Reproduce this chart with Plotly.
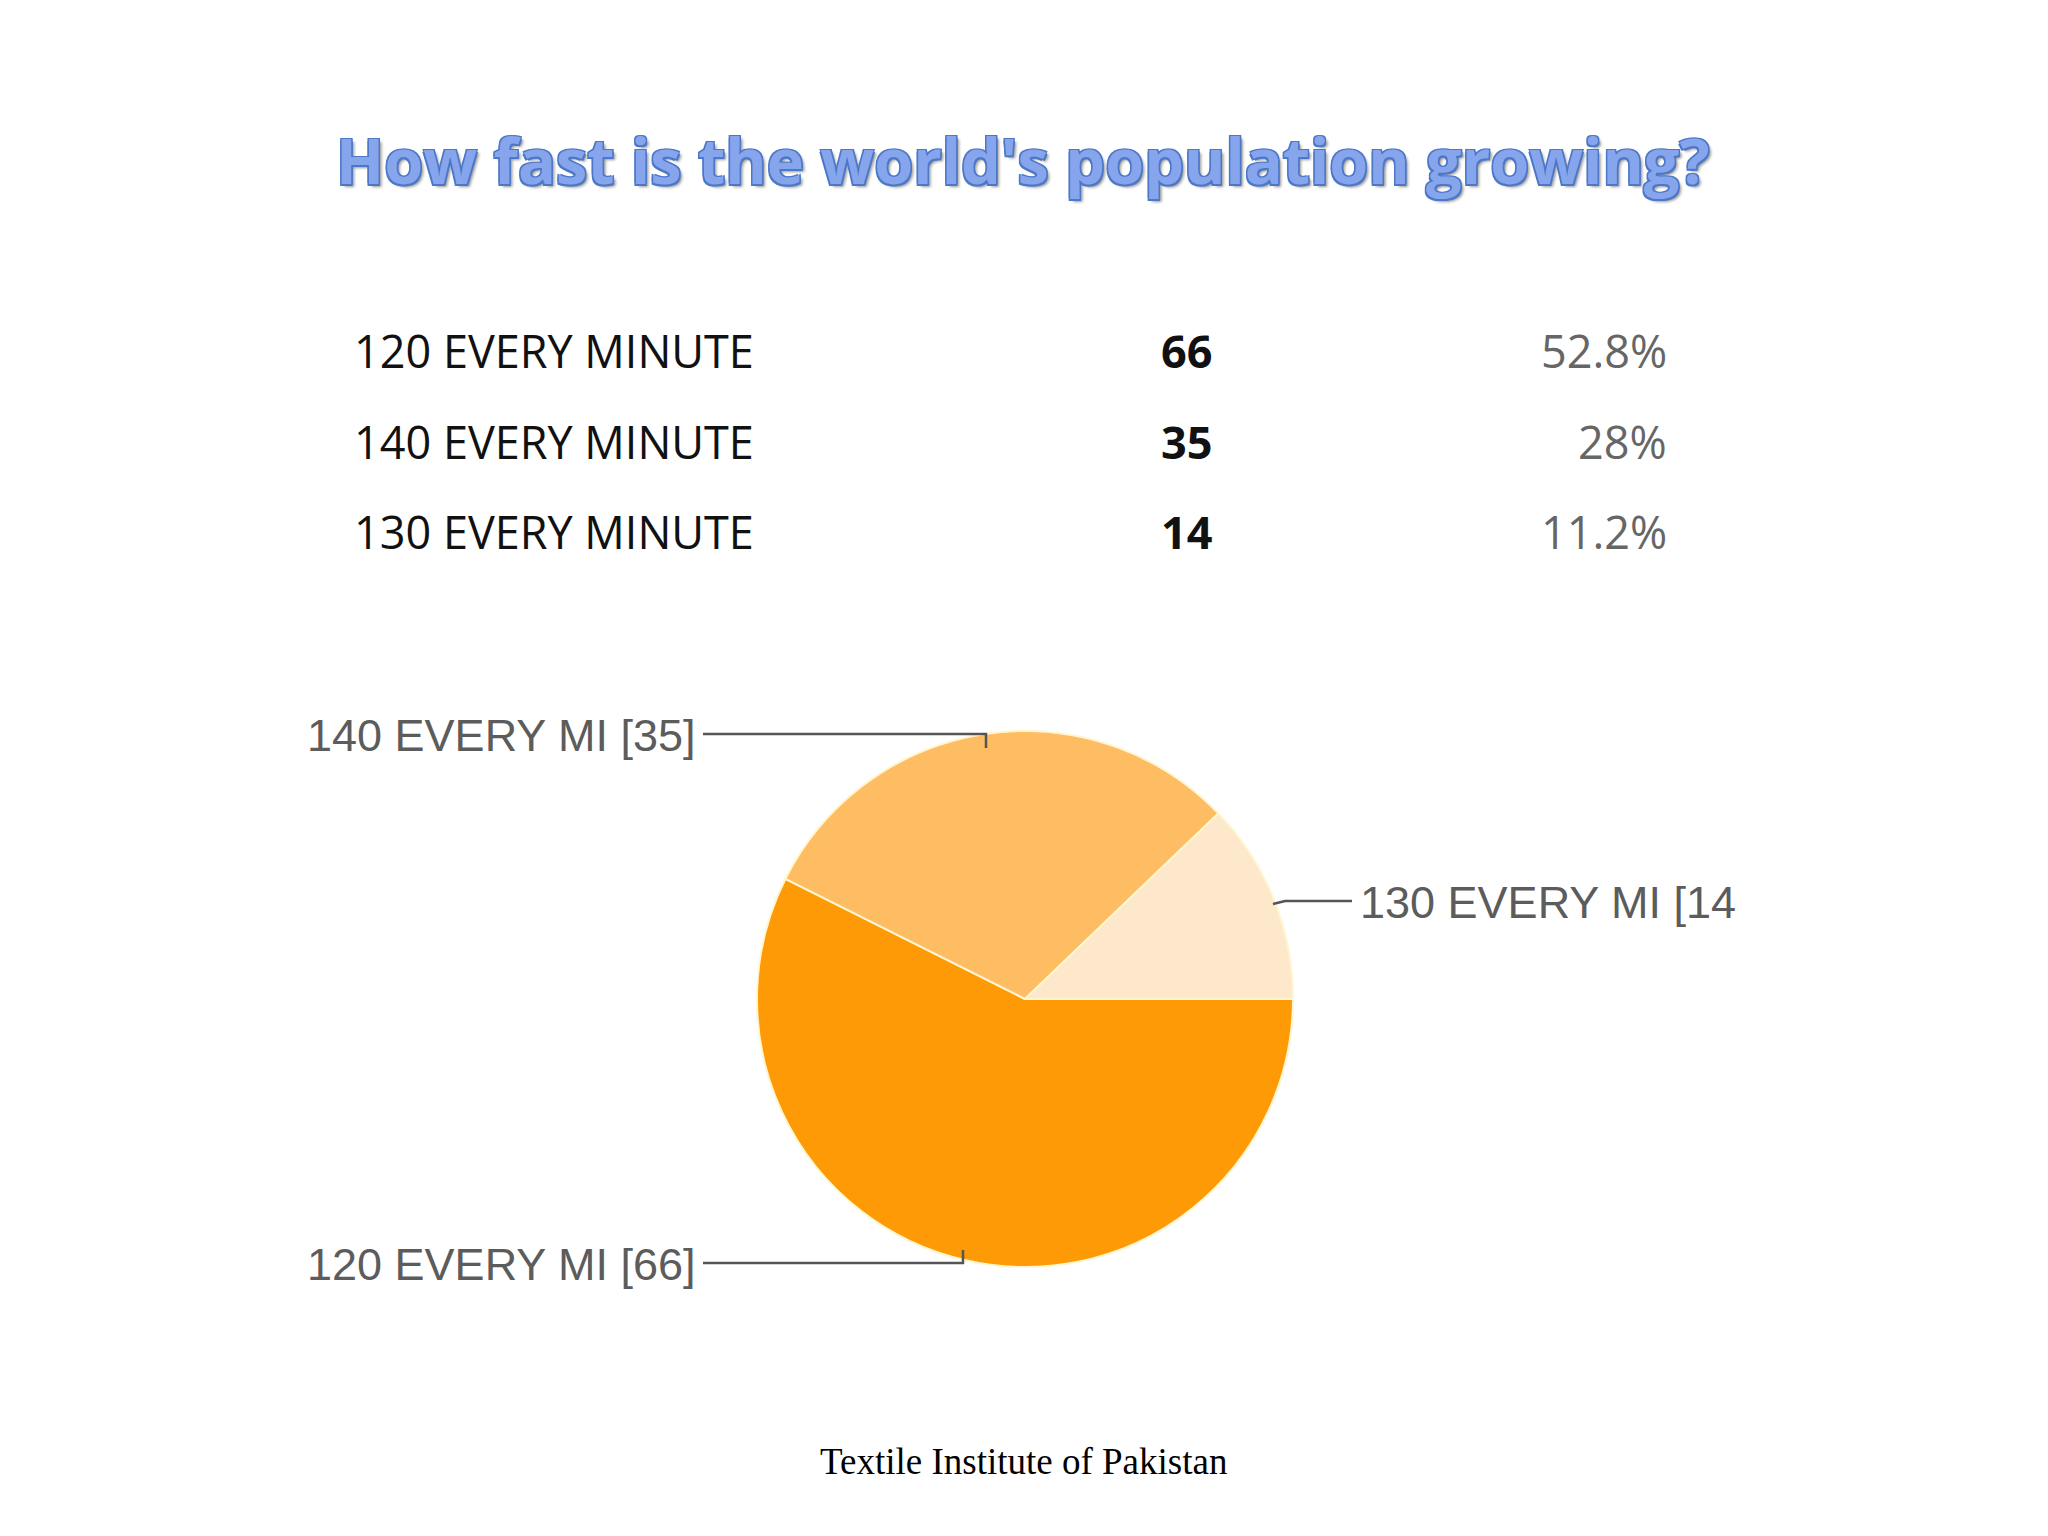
import plotly.graph_objects as go

W, H = 2040, 1528   # figure size (page body adds an 8px margin)
OX, OY = 8, 8

# ---- data ----
categories = ["120 EVERY MINUTE", "140 EVERY MINUTE", "130 EVERY MINUTE"]
counts = [66, 35, 14]
percents = ["52.8%", "28%", "11.2%"]
pie_labels = ["120 EVERY MI [66]", "140 EVERY MI [35]", "130 EVERY MI [14"]
slice_colors = ["#FE9A06", "#FEBD62", "#FDE8CB"]

title_text = "How fast is the world's population growing?"
footer_text = "Textile Institute of Pakistan"


def px(x):
    return (x - OX) / W


def py(y):
    return 1 - (y - OY) / H


fig = go.Figure()

# pie geometry (screen pixels)
cx, cy, r = 1025, 999, 268
fig.add_trace(go.Pie(
    labels=categories,
    values=counts,
    sort=False,
    direction="clockwise",
    rotation=90,
    marker=dict(colors=slice_colors, line=dict(color="#FFF6D0", width=2)),
    textinfo="none",
    hoverinfo="label+value+percent",
    showlegend=False,
    domain=dict(x=[px(cx - r), px(cx + r)], y=[py(cy + r), py(cy - r)]),
))

annotations = []
shapes = []

# Title
annotations.append(dict(
    text="<b>" + title_text + "</b>", x=px(1022), y=py(160), xref="paper", yref="paper",
    xanchor="center", yanchor="middle", showarrow=False,
    font=dict(family="Open Sans", size=63, color="#86A5EC",
              shadow="-1.5px -1.5px 0 #4C78C8, 1.5px -1.5px 0 #4C78C8, -1.5px 1.5px 0 #4C78C8, 1.5px 1.5px 0 #4C78C8, 3px 3px 3px #9a9a9a"),
))

# Table rows
row_y = [350, 441, 532]
for cat, cnt, pct, yy in zip(categories, counts, percents, row_y):
    annotations.append(dict(text=cat, x=px(352), y=py(yy), xref="paper", yref="paper",
                            xanchor="left", yanchor="middle", showarrow=False,
                            font=dict(family="Open Sans", size=45, color="#111111")))
    annotations.append(dict(text="<b>%d</b>" % cnt, x=px(1214), y=py(yy), xref="paper", yref="paper",
                            xanchor="right", yanchor="middle", showarrow=False,
                            font=dict(family="Open Sans", size=45, color="#111111")))
    annotations.append(dict(text=pct, x=px(1669), y=py(yy), xref="paper", yref="paper",
                            xanchor="right", yanchor="middle", showarrow=False,
                            font=dict(family="Open Sans", size=45, color="#666666")))

# Pie outside labels with leader lines
lab_font = dict(family="Liberation Sans", size=45, color="#5c5c5c")
line_style = dict(color="#555555", width=2.5)

# 140 (upper left)
annotations.append(dict(text=pie_labels[1], x=px(698), y=py(735), xref="paper", yref="paper",
                        xanchor="right", yanchor="middle", showarrow=False, font=lab_font))
shapes.append(dict(type="path", xref="paper", yref="paper",
                   path="M %f %f L %f %f L %f %f" % (px(703), py(734), px(986), py(734), px(986), py(748)),
                   line=line_style))
# 120 (lower left)
annotations.append(dict(text=pie_labels[0], x=px(698), y=py(1264), xref="paper", yref="paper",
                        xanchor="right", yanchor="middle", showarrow=False, font=lab_font))
shapes.append(dict(type="path", xref="paper", yref="paper",
                   path="M %f %f L %f %f L %f %f" % (px(703), py(1263), px(963), py(1263), px(963), py(1250)),
                   line=line_style))
# 130 (right)
annotations.append(dict(text=pie_labels[2], x=px(1358), y=py(902), xref="paper", yref="paper",
                        xanchor="left", yanchor="middle", showarrow=False, font=lab_font))
shapes.append(dict(type="path", xref="paper", yref="paper",
                   path="M %f %f L %f %f L %f %f" % (px(1273), py(904), px(1285), py(901), px(1352), py(901)),
                   line=line_style))

# Footer
annotations.append(dict(text=footer_text, x=px(1023), y=py(1461), xref="paper", yref="paper",
                        xanchor="center", yanchor="middle", showarrow=False,
                        font=dict(family="Liberation Serif", size=37, color="#000000")))

fig.update_layout(
    width=W, height=H,
    margin=dict(l=0, r=0, t=0, b=0),
    paper_bgcolor="white", plot_bgcolor="white",
    annotations=annotations, shapes=shapes,
    showlegend=False,
)

fig.write_html("out.html", config={"displayModeBar": False})
